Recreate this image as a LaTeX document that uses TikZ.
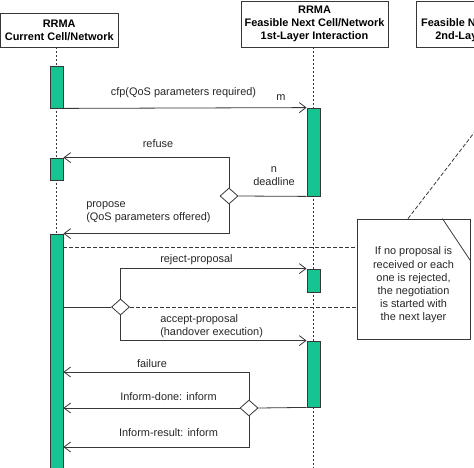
\documentclass[tikz,border=0pt]{standalone}
\usepackage{fontspec}
\setmainfont{Liberation Sans}
\usepackage{tikz}
\usetikzlibrary{arrows.meta,shapes.geometric,calc}
\definecolor{barfill}{RGB}{22,196,146}
\definecolor{linegray}{RGB}{55,55,55}

\begin{document}
\begin{tikzpicture}[x=0.75pt,y=0.75pt,yscale=-1,xscale=1,
	head/.style={draw=linegray, line width=0.6pt, align=center, inner sep=0pt, font=\bfseries\fontsize{8.2}{9.75}\selectfont},
	bar/.style={draw=linegray, line width=0.6pt, fill=barfill, inner sep=0pt, minimum width=9.75pt},
	life/.style={linegray, line width=0.5pt, dash pattern={on 1.5pt off 1.5pt}},
	guard/.style={linegray, line width=0.6pt, dash pattern={on 3pt off 1.5pt}},
	link/.style={linegray, line width=0.6pt},
	msg/.style={link, -{Straight Barb[length=5pt,width=7.5pt,line width=0.6pt]}},
	choice/.style={draw=linegray, line width=0.6pt, diamond, fill=white, inner sep=0pt, minimum width=13.5pt, minimum height=12pt},
	lbl/.style={inner sep=0.75pt, font=\fontsize{8.2}{9.6}\selectfont, text=black!85}
	]
	\useasboundingbox (0,0) rectangle (474,467);
	
	%Lifeline heads
	\node [head, minimum width=88.1pt, minimum height=25.5pt] (cur) at (59.25,30) {RRMA\\Current Cell/Network};
	\node [head, minimum width=110.25pt, minimum height=34.5pt] (fn1) at (314.5,24) {RRMA\\Feasible Next Cell/Network\\1st-Layer Interaction};
	\node [head, minimum width=110.25pt, minimum height=34.5pt] (fn2) at (489.5,24) {};
	% Text Node
	\node [head, draw=none] (fn2txt) at (491,30.5) {Feasible Next Cell/Network\\2nd-Layer Interaction};
	
	%Lifelines
	\coordinate (bot1) at (56.5,470);
	\coordinate (bot2) at (313.5,470);
	\draw [life] (cur.south -| bot1) -- (bot1);
	\draw [life] (fn1.south -| bot2) -- (bot2);
	
	%Activation bars
	\node [bar, minimum height=31.5pt] (a1) at (56.5,87) {};
	\node [bar, minimum height=16.5pt] (a2) at (56.5,169) {};
	\node [bar, minimum height=177pt] (a3) at (56.5,352) {};
	\node [bar, minimum height=66pt] (b1) at (313.5,152) {};
	\node [bar, minimum height=17.25pt] (b2) at (313.5,280.5) {};
	\node [bar, minimum height=49.5pt] (b3) at (313.5,374) {};
	
	%Note
	\node [draw=linegray, line width=0.6pt, fill=white, minimum width=84.75pt, minimum height=90pt, inner sep=0pt] (note) at (413.5,279) {};
	\draw [link] ($(note.north east)+(-28,0)$) -- ($(note.north east)+(0,42)$);
	\coordinate (nt) at (540,47);
	\draw [guard] ($(note.north)+(-5.5,0)$) -- (nt);
	% Text Node
	\node [lbl, align=center, font=\fontsize{8.2}{9.9}\selectfont] (notetxt) at (413.5,285) {If no proposal is\\received or each\\one is rejected,\\the negotiation\\is started with\\the next layer};
	
	%Decisions
	\node [choice] (d1) at (229,196) {};
	\node [choice] (d2) at (120.5,307) {};
	\node [choice] (d3) at (249,408) {};
	
	%Messages
	\draw [msg] (a1.south east) -- (b1.north west);
	\draw [link] (b1.south west) -- (d1.east);
	\draw [msg] (d1.north) |- (a2.north east);
	\draw [msg] (d1.south) |- (a3.north east);
	\coordinate (g1) at ($(a3.north east)+(0,14)$);
	\draw [guard] (g1) -- (g1 -| note.west);
	\draw [link] (a3.east |- d2.west) -- (d2.west);
	\draw [guard] (d2.east) -- (d2.east -| note.west);
	\draw [msg] (d2.north) |- (b2.north west);
	\draw [msg] (d2.south) |- (b3.north west);
	\draw [link] (b3.south west) -- (d3.east);
	\coordinate (f1) at (249,372);
	\coordinate (r1) at (249,447);
	\draw [msg] (d3.north) -- (f1) -- (f1 -| a3.east);
	\draw [msg] (d3.west) -- (d3.west -| a3.east);
	\draw [msg] (d3.south) -- (r1) -- (r1 -| a3.east);
	
	% Text Node
	\node [lbl] (cfp) at (183.5,93) {cfp(QoS parameters required)};
	% Text Node
	\node [lbl] (m) at (281,98) {m};
	% Text Node
	\node [lbl] (refuse) at (158,144) {refuse};
	% Text Node
	\node [lbl, align=center] (ndl) at (274,176.5) {n\\deadline};
	% Text Node
	\node [lbl, align=left, anchor=west] (propose) at (85,212) {propose\\(QoS parameters offered)};
	% Text Node
	\node [lbl, anchor=west] (reject) at (159,260) {reject-proposal};
	% Text Node
	\node [lbl, align=left, anchor=west] (accept) at (159,326.5) {accept-proposal\\(handover execution)};
	% Text Node
	\node [lbl] (failure) at (152,364) {failure};
	% Text Node
	\node [lbl] (done) at (168.5,397) {Inform-done: inform};
	% Text Node
	\node [lbl] (result) at (168.5,433) {Inform-result: inform};
	
\end{tikzpicture}
\end{document}
